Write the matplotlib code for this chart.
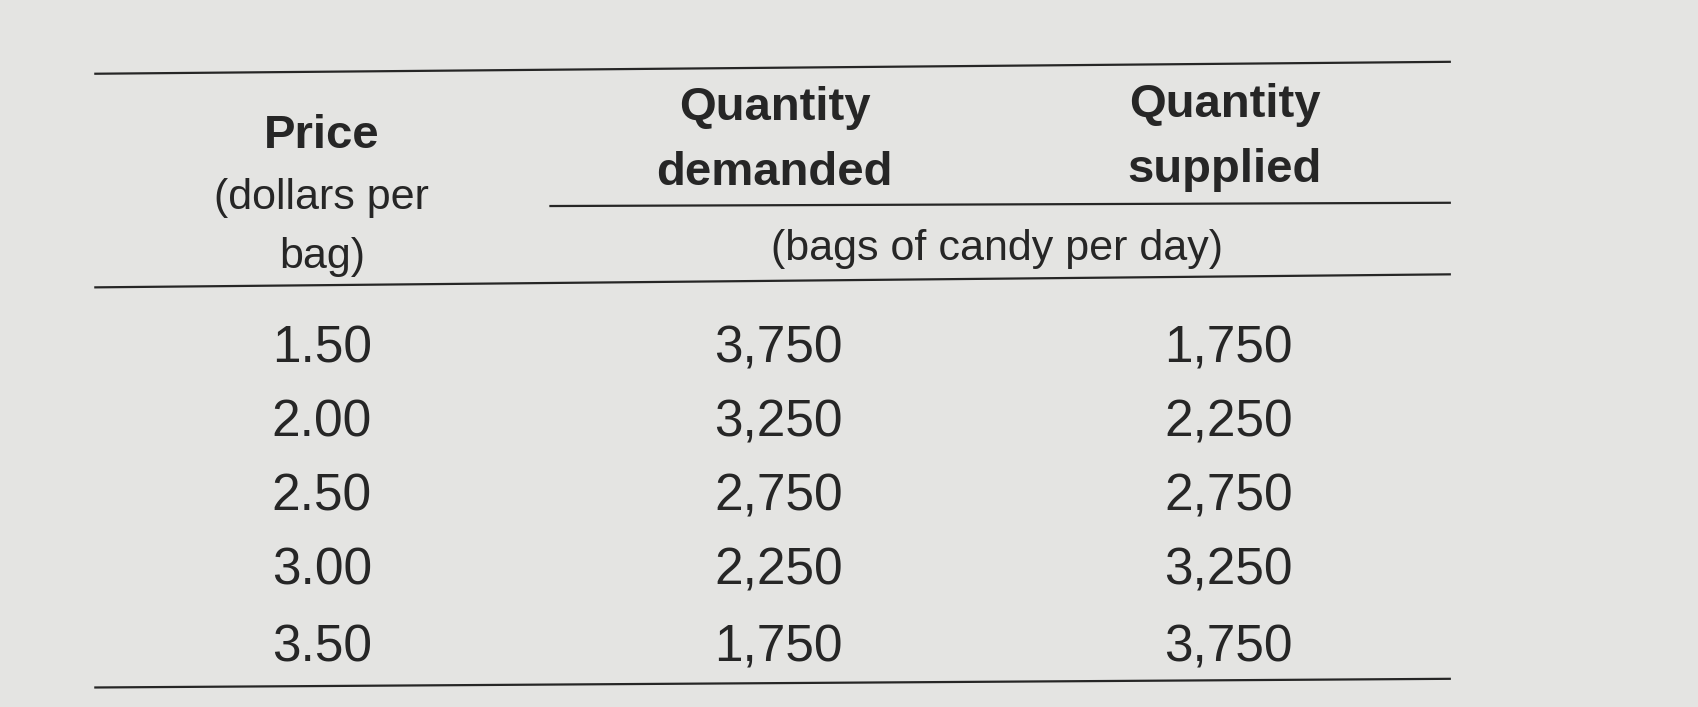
import matplotlib.pyplot as plt
from matplotlib.lines import Line2D

prices = ["1.50", "2.00", "2.50", "3.00", "3.50"]
demanded = ["3,750", "3,250", "2,750", "2,250", "1,750"]
supplied = ["1,750", "2,250", "2,750", "3,250", "3,750"]

W, H = 1568.0, 652.0  # layout measured on the reference at this scale
fig = plt.figure(figsize=(16.99, 7.07), dpi=100)
fig.patch.set_facecolor("#e4e4e2")
ink = "#262626"
plt.rcParams['font.family'] = ['Liberation Sans', 'DejaVu Sans']


def fx(x):
    return x / W


def fy(y):
    return 1 - y / H


def hline(x0, y0, x1, y1, lw=1.6):
    fig.add_artist(Line2D([fx(x0), fx(x1)], [fy(y0), fy(y1)], color=ink, lw=lw,
                          transform=fig.transFigure))


def txt(x, y, s, ha="center", size=30, weight="normal"):
    fig.text(fx(x), fy(y), s, ha=ha, va="center", fontsize=size, color=ink,
             weight=weight)


hline(88, 68, 1338, 57)
hline(508, 190, 1338, 187)
hline(88, 265, 1338, 253)
hline(88, 634, 1338, 626)

txt(297, 125, "Price", size=34, weight="bold")
txt(297, 183, "(dollars per", size=31)
txt(297, 237, "bag)", size=31)
txt(715, 100, "Quantity", size=34, weight="bold")
txt(715, 160, "demanded", size=34, weight="bold")
txt(1130, 97, "Quantity", size=34, weight="bold")
txt(1130, 157, "supplied", size=34, weight="bold")
txt(920, 230, "(bags of candy per day)", size=31)

row_y = [322, 390, 458, 527, 598]
for y, p, d, s in zip(row_y, prices, demanded, supplied):
    txt(297, y, p, size=37)
    txt(778, y, d, ha="right", size=37)
    txt(1193, y, s, ha="right", size=37)

fig.savefig("out.png", dpi=100, facecolor=fig.get_facecolor())
